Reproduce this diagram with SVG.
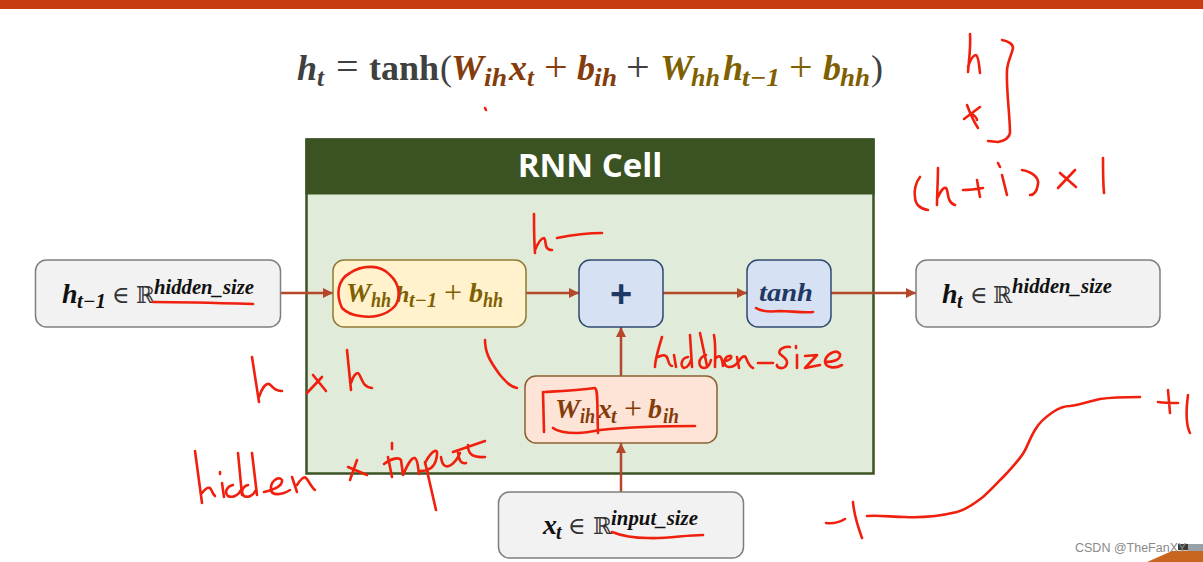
<svg xmlns="http://www.w3.org/2000/svg" width="1203" height="562" viewBox="0 0 1203 562">
<style>
.m{font-family:"Liberation Serif","DejaVu Serif",serif;font-weight:bold;font-style:italic}
.r{font-family:"Liberation Serif","DejaVu Serif",serif;font-weight:normal;font-style:normal}
.b{font-family:"DejaVu Serif",serif;font-weight:normal;fill:#333}
.e{font-size:24px}.rr{font-size:23px}
.f{font-size:36px}.fs{font-size:25px}.p{font-size:42px}
.n{font-size:28px}.ns{font-size:20px}.su{font-size:20px}
.g{fill:#404040}.o{fill:#843c0c}.y{fill:#7f6000}.k{fill:#111}
.box{stroke-width:1.5}
.c{stroke:#b5472a;stroke-width:2.5;fill:none}
.h{stroke:#f0200f;stroke-width:2.6;fill:none;stroke-linecap:round;stroke-linejoin:round}
</style>
<defs><marker id="a" markerUnits="userSpaceOnUse" markerWidth="12" markerHeight="12" refX="10" refY="5" orient="auto"><path d="M0 0L10 5L0 10Z" fill="#b5472a"/></marker></defs>
<rect width="1203" height="562" fill="#fff"/>
<rect width="1203" height="9" fill="#c83c12"/>

<g id="formula">
<text class="m f g" x="297" y="80">h</text><text class="m fs g" x="317" y="86">t</text>
<text class="r f g" x="336" y="80" style="font-size:40px">=</text>
<text class="r f g" x="369" y="80" style="font-weight:bold" textLength="70" lengthAdjust="spacingAndGlyphs">tanh</text>
<text class="r f g" x="440" y="80">(</text>
<text class="m f o" x="451" y="80" textLength="33" lengthAdjust="spacingAndGlyphs">W</text><text class="m fs o" x="484" y="86" textLength="23" lengthAdjust="spacingAndGlyphs">ih</text>
<text class="m f o" x="509" y="80">x</text><text class="m fs o" x="527" y="86">t</text>
<text class="r p o" x="544" y="81">+</text>
<text class="m f o" x="577" y="80">b</text><text class="m fs o" x="594" y="86" textLength="23" lengthAdjust="spacingAndGlyphs">ih</text>
<text class="r p g" x="626" y="81">+</text>
<text class="m f y" x="660" y="80" textLength="33" lengthAdjust="spacingAndGlyphs">W</text><text class="m fs y" x="691" y="86" textLength="29" lengthAdjust="spacingAndGlyphs">hh</text>
<text class="m f y" x="723" y="80">h</text><text class="m fs y" x="742" y="86" textLength="38" lengthAdjust="spacingAndGlyphs">t−1</text>
<text class="r p y" x="789" y="81">+</text>
<text class="m f y" x="823" y="80">b</text><text class="m fs y" x="840" y="86" textLength="30" lengthAdjust="spacingAndGlyphs">hh</text>
<text class="r f g" x="871" y="80">)</text>
</g>

<g id="rnn-cell">
<rect x="306.500" y="139.500" width="567" height="334" fill="#e0ecd9" stroke="#3b5323" stroke-width="2.500"/>
<rect x="305.500" y="138.500" width="569" height="56" fill="#3b5323"/>
<text x="590" y="177" font-family="'Open Sans',sans-serif" font-weight="700" font-size="33" fill="#fff" text-anchor="middle">RNN Cell</text>
</g>

<g id="connectors">
<path class="c" marker-end="url(#a)" d="M280 293H333"/>
<path class="c" marker-end="url(#a)" d="M526 293H579"/>
<path class="c" marker-end="url(#a)" d="M663 293H747"/>
<path class="c" marker-end="url(#a)" d="M831 293H916"/>
<path class="c" marker-end="url(#a)" d="M621 376V327"/>
<path class="c" marker-end="url(#a)" d="M621 492V443"/>
</g>

<g id="node-h-prev">
<rect class="box" x="35.500" y="260" width="245" height="67" rx="11" fill="#f2f2f2" stroke="#7f7f7f"/>
<text class="m n k" x="62" y="303">h</text><text class="m ns k" x="77" y="308" textLength="29" lengthAdjust="spacingAndGlyphs">t−1</text>
<text class="b e" x="112" y="303">∈</text>
<text class="b rr" x="136" y="303">ℝ</text>
<text class="m su k" x="154" y="294" textLength="100" lengthAdjust="spacingAndGlyphs">hidden_size</text>
</g>

<g id="node-whh">
<rect class="box" x="333" y="260" width="193" height="67" rx="11" fill="#fff2cc" stroke="#8f7a35"/>
<text class="m n y" x="346" y="302" textLength="25" lengthAdjust="spacingAndGlyphs">W</text><text class="m ns y" x="371" y="307" textLength="20" lengthAdjust="spacingAndGlyphs">hh</text>
<text class="m y" x="396" y="302" font-size="24">h</text><text class="m ns y" x="409" y="307" textLength="28" lengthAdjust="spacingAndGlyphs">t−1</text>
<text class="r y" x="444" y="303" font-size="32">+</text>
<text class="m n y" x="469" y="302">b</text><text class="m ns y" x="483" y="307" textLength="20" lengthAdjust="spacingAndGlyphs">hh</text>
</g>

<g id="node-plus">
<rect class="box" x="579" y="260" width="84" height="67" rx="11" fill="#d6e2f3" stroke="#2f4a70"/>
<text x="621" y="307" font-family="'Liberation Sans',sans-serif" font-weight="700" font-size="38" fill="#1f3864" text-anchor="middle">+</text>
</g>

<g id="node-tanh">
<rect class="box" x="747" y="260" width="84" height="67" rx="11" fill="#d6e2f3" stroke="#2f4a70"/>
<text class="m" x="759" y="301" font-size="25" fill="#1f3864" textLength="54" lengthAdjust="spacingAndGlyphs">tanh</text>
</g>

<g id="node-h-out">
<rect class="box" x="916" y="260" width="244" height="67" rx="11" fill="#f2f2f2" stroke="#7f7f7f"/>
<text class="m n k" x="942" y="303">h</text><text class="m ns k" x="957" y="308">t</text>
<text class="b e" x="970" y="303">∈</text>
<text class="b rr" x="993" y="303">ℝ</text>
<text class="m su k" x="1012" y="293" textLength="100" lengthAdjust="spacingAndGlyphs">hidden_size</text>
</g>

<g id="node-wih">
<rect class="box" x="525" y="376" width="192" height="67" rx="11" fill="#fde4d6" stroke="#8a6030"/>
<text class="m n o" x="555" y="418" textLength="25" lengthAdjust="spacingAndGlyphs">W</text><text class="m ns o" x="580" y="423" textLength="15" lengthAdjust="spacingAndGlyphs">ih</text>
<text class="m n o" x="598" y="418">x</text><text class="m ns o" x="611" y="423">t</text>
<text class="r o" x="624" y="419" font-size="32">+</text>
<text class="m n o" x="648" y="418">b</text><text class="m ns o" x="663" y="423" textLength="16" lengthAdjust="spacingAndGlyphs">ih</text>
</g>

<g id="node-x">
<rect class="box" x="498.500" y="492" width="245" height="66" rx="11" fill="#f2f2f2" stroke="#7f7f7f"/>
<text class="m n k" x="543" y="534">x</text><text class="m ns k" x="556" y="539">t</text>
<text class="b e" x="568" y="534">∈</text>
<text class="b rr" x="593" y="534">ℝ</text>
<text class="m su k" x="611" y="525" textLength="87" lengthAdjust="spacingAndGlyphs">input_size</text>
</g>

<g id="annotations" class="h">
<path d="M485 108l1 2"/>
<path d="M153 302C185 302 220 303 253 304"/>
<path d="M342 308C336 295 337 280 350 273C362 265 380 264 390 275C400 284 401 298 395 306C386 316 372 318 360 316C352 315 346 312 342 308"/>
<path d="M252 357L259 402M259 397C262 388 266 383 269 384C273 386 273 391 282 391"/>
<path d="M307 393L322 377M313 375L326 391"/>
<path d="M347 350L351 390M351 383C353 376 356 373 358 373C362 376 361 387 372 388"/>
<path d="M485 340C485 352 489 360 500 375C507 383 511 387 517 388"/>
<path d="M195 451L202 503M202 493C205 489 208 487 210 488C212 490 212 493 215 496"/>
<path d="M222 483L224 497M220 472v2"/>
<path d="M233 485C227 486 224 492 228 496C232 498 238 496 241 490M238 453L242 495"/>
<path d="M248 485C243 486 240 492 244 496C248 498 253 496 256 490M252 453L257 495"/>
<path d="M264 492C272 490 283 487 282 480C278 475 270 482 271 490C272 496 282 495 290 490"/>
<path d="M292 477L297 492M297 485C300 480 304 476 306 478C309 481 311 487 315 490"/>
<path d="M348 467L367 475M357 460L350 480"/>
<path d="M388 457L392 477M392 443v6"/>
<path d="M384 464C392 458 399 457 401 460L403 475C407 466 411 457 415 458C418 460 418 468 419 474"/>
<path d="M428 473L425 463C432 450 440 445 436 460C434 468 428 471 420 471M425 462L436 510"/>
<path d="M441 457C442 466 446 468 451 465C455 462 458 458 460 453M458 452C459 462 462 464 466 463M453 452L485 441M468 445C468 452 470 458 485 457"/>
<path d="M534 214C534 230 534 240 535 253M535 250C538 243 541 238 544 238C547 240 543 250 552 250"/>
<path d="M557 238C572 235 587 233 602 233"/>
<path d="M756 308C762 312 770 312 780 311C790 311 803 313 813 312"/>
<path d="M662 337C658 350 655 360 655 367M658 357C664 354 667 355 668 360C669 364 670 366 672 366"/>
<path d="M674 355L676 367M688 357C681 358 680 366 684 368C687 368 690 364 691 360M690 335L692 367"/>
<path d="M706 355C697 358 698 368 704 368C708 368 710 364 711 360M700 333L707 366"/>
<path d="M714 335C716 345 715 358 715 367M716 358C720 354 722 357 723 366M725 361C732 360 733 355 729 356C724 357 722 366 729 367C733 367 736 365 738 362"/>
<path d="M737 357L739 368M739 361C742 356 745 355 746 358C748 363 750 367 753 368"/>
<path d="M758 363L773 363"/>
<path d="M790 347C784 346 777 350 780 354C785 358 790 361 785 367C780 370 776 366 777 365"/>
<path d="M797 355L797 368M796 346v2"/>
<path d="M805 356L817 355L805 368L820 365"/>
<path d="M825 362C833 362 841 360 840 354C836 348 826 355 825 361C825 368 835 369 842 365"/>
<path d="M543 392L544 432M545 392C562 391 580 390 595 388C598 390 597 400 598 433"/>
<path d="M553 428C558 432 567 433 577 433C585 433 590 432 600 430C630 427 660 426 695 426"/>
<path d="M612 532C622 536 632 538 648 538C667 539 685 535 703 535"/>
<path d="M826 523C834 524 840 522 845 519M853 502C854 515 858 527 862 538"/>
<path d="M867 516C880 515 892 517 905 517C925 518 940 516 957 512C968 509 975 503 983 497C992 489 1000 480 1007 473C1014 465 1020 459 1024 452C1028 445 1031 436 1035 430C1040 421 1047 416 1053 412C1059 408 1065 406 1070 406C1080 405 1090 401 1100 399C1113 397 1127 397 1140 397"/>
<path d="M1158 402C1165 403 1172 403 1178 403M1168 390L1170 413M1188 395C1186 410 1186 425 1190 433"/>
<path d="M970 34C971 46 969 60 968 72M968 67C971 58 974 55 976 55C979 57 979 66 980 73"/>
<path d="M967 105C970 113 974 122 978 128M980 107L964 119M972 114C975 116 977 118 977 120"/>
<path d="M1002 40C1008 41 1013 44 1013 48C1012 54 1008 60 1007 70C1006 90 1010 115 1010 133C1009 139 1003 141 998 142L988 141"/>
<path d="M920 177C915 183 914 192 915 197C915 204 920 209 928 210"/>
<path d="M938 168C938 180 937 195 937 205M938 197C941 190 944 187 946 188C949 191 946 202 955 205"/>
<path d="M963 190C970 190 977 189 983 188M977 180L980 197"/>
<path d="M1002 175L1007 195M998 163l2 4"/>
<path d="M1022 170C1033 172 1039 178 1038 184C1037 191 1034 195 1030 195"/>
<path d="M1058 188L1075 170M1060 173L1076 187"/>
<path d="M1103 158C1103 170 1103 182 1104 193"/>
</g>

<g id="watermark">
<path d="M1147 562L1172 551L1203 550V562Z" fill="#c8661f"/>
<rect x="1178" y="544" width="10" height="6" fill="#3a3a3a"/>
<rect x="1188" y="544" width="15" height="7" fill="#98a0a8"/>
<text x="1075" y="552" font-family="'Liberation Sans',sans-serif" font-size="12.500" fill="#8a8a8a">CSDN @TheFanXY</text>
</g>
</svg>
